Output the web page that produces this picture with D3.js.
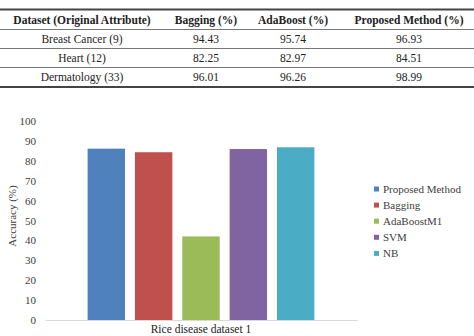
<!DOCTYPE html>
<html>
<head>
<meta charset="utf-8">
<script src="https://cdn.jsdelivr.net/npm/d3@7/dist/d3.min.js"></script>
<style>
  html, body { margin: 0; padding: 0; background: #fff; }
  svg { display: block; }
</style>
</head>
<body>
<script>
// Table contents
const tableHeaders = ["Dataset (Original Attribute)", "Bagging (%)", "AdaBoost (%)", "Proposed Method (%)"];
const tableDatasets = ["Breast Cancer (9)", "Heart (12)", "Dermatology (33)"];
const tableBagging = ["94.43", "82.25", "96.01"];
const tableAdaBoost = ["95.74", "82.97", "96.26"];
const tableProposed = ["96.93", "84.51", "98.99"];

// Bar chart data
const categories = ["Rice disease dataset 1"];
const seriesNames = ["Proposed Method", "Bagging", "AdaBoostM1", "SVM", "NB"];
const seriesValues = [86.1, 84.3, 42.0, 85.9, 86.8];
const seriesColors = ["#4F81BD", "#C0504D", "#9BBB59", "#8064A2", "#4BACC6"];
const yTicks = [0, 10, 20, 30, 40, 50, 60, 70, 80, 90, 100];

const W = 474, H = 336;
const svg = d3.select("body").append("svg").attr("width", W).attr("height", H);

// ---------- Table ----------
const colCenters = [82, 206, 293, 409];
const rowCenters = [20, 39, 58, 77];
const serif = "'Liberation Serif', 'Times New Roman', serif";
const table = svg.append("g");

const rows = [tableHeaders].concat(tableDatasets.map((d, i) => [d, tableBagging[i], tableAdaBoost[i], tableProposed[i]]));

table.append("line").attr("x1", 0).attr("x2", W).attr("y1", 9.5).attr("y2", 9.5)
  .attr("stroke", "#444").attr("stroke-width", 2);
[29.5, 48.5, 67.5].forEach(y => {
  table.append("line").attr("x1", 0).attr("x2", W).attr("y1", y).attr("y2", y)
    .attr("stroke", "#777").attr("stroke-width", 1);
});
table.append("line").attr("x1", 0).attr("x2", W).attr("y1", 87).attr("y2", 87)
  .attr("stroke", "#444").attr("stroke-width", 2);

rows.forEach((r, ri) => {
  r.forEach((txt, ci) => {
    table.append("text")
      .attr("x", colCenters[ci]).attr("y", rowCenters[ri])
      .attr("dy", "0.35em")
      .attr("text-anchor", "middle")
      .attr("font-family", serif)
      .attr("font-size", 11.5)
      .attr("font-weight", ri === 0 ? "bold" : "normal")
      .attr("fill", "#222")
      .text(txt);
  });
});

// ---------- Bar chart ----------
const y = d3.scaleLinear().domain([0, 100]).range([320, 121]);
const x0 = d3.scaleBand().domain(categories).range([45, 357]).padding(0);
const x1 = d3.scaleBand().domain(seriesNames).range([0, x0.bandwidth()])
  .paddingInner(0.21).paddingOuter(0.9);

const chart = svg.append("g");

// y tick labels
const yAxis = d3.axisLeft(y).tickValues(yTicks).tickSize(0).tickPadding(0);
const yg = chart.append("g").attr("transform", "translate(36,0)").call(yAxis);
yg.select(".domain").remove();
yg.selectAll("text")
  .attr("font-family", serif).attr("font-size", 11).attr("fill", "#404040");

// bars
categories.forEach(cat => {
  chart.append("g").attr("transform", `translate(${x0(cat)},0)`)
    .selectAll("rect").data(seriesNames).join("rect")
    .attr("x", d => x1(d))
    .attr("width", x1.bandwidth())
    .attr("y", (d, i) => y(seriesValues[i]))
    .attr("height", (d, i) => y(0) - y(seriesValues[i]))
    .attr("fill", (d, i) => seriesColors[i]);
});

// x axis baseline and category label
const xAxis = d3.axisBottom(x0).tickSize(0).tickPadding(5);
const xg = chart.append("g").attr("transform", "translate(0,320)").call(xAxis);
xg.select(".domain").attr("stroke", "#d9d9d9").attr("stroke-width", 1.2);
xg.selectAll("text")
  .attr("font-family", serif).attr("font-size", 11.5).attr("fill", "#222");

// y axis title
chart.append("text")
  .attr("transform", "translate(12,216) rotate(-90)")
  .attr("dy", "0.35em")
  .attr("text-anchor", "middle")
  .attr("font-family", serif).attr("font-size", 11).attr("fill", "#404040")
  .text("Accuracy (%)");

// legend
const legend = chart.append("g").attr("transform", "translate(374,189)");
seriesNames.forEach((name, i) => {
  const g = legend.append("g").attr("transform", `translate(0,${i * 16.1})`);
  g.append("rect").attr("x", 0).attr("y", -2.5).attr("width", 5).attr("height", 5)
    .attr("fill", seriesColors[i]);
  g.append("text").attr("x", 9).attr("y", 0).attr("dy", "0.35em")
    .attr("font-family", serif).attr("font-size", 11).attr("fill", "#404040")
    .text(name);
});
</script>
</body>
</html>
